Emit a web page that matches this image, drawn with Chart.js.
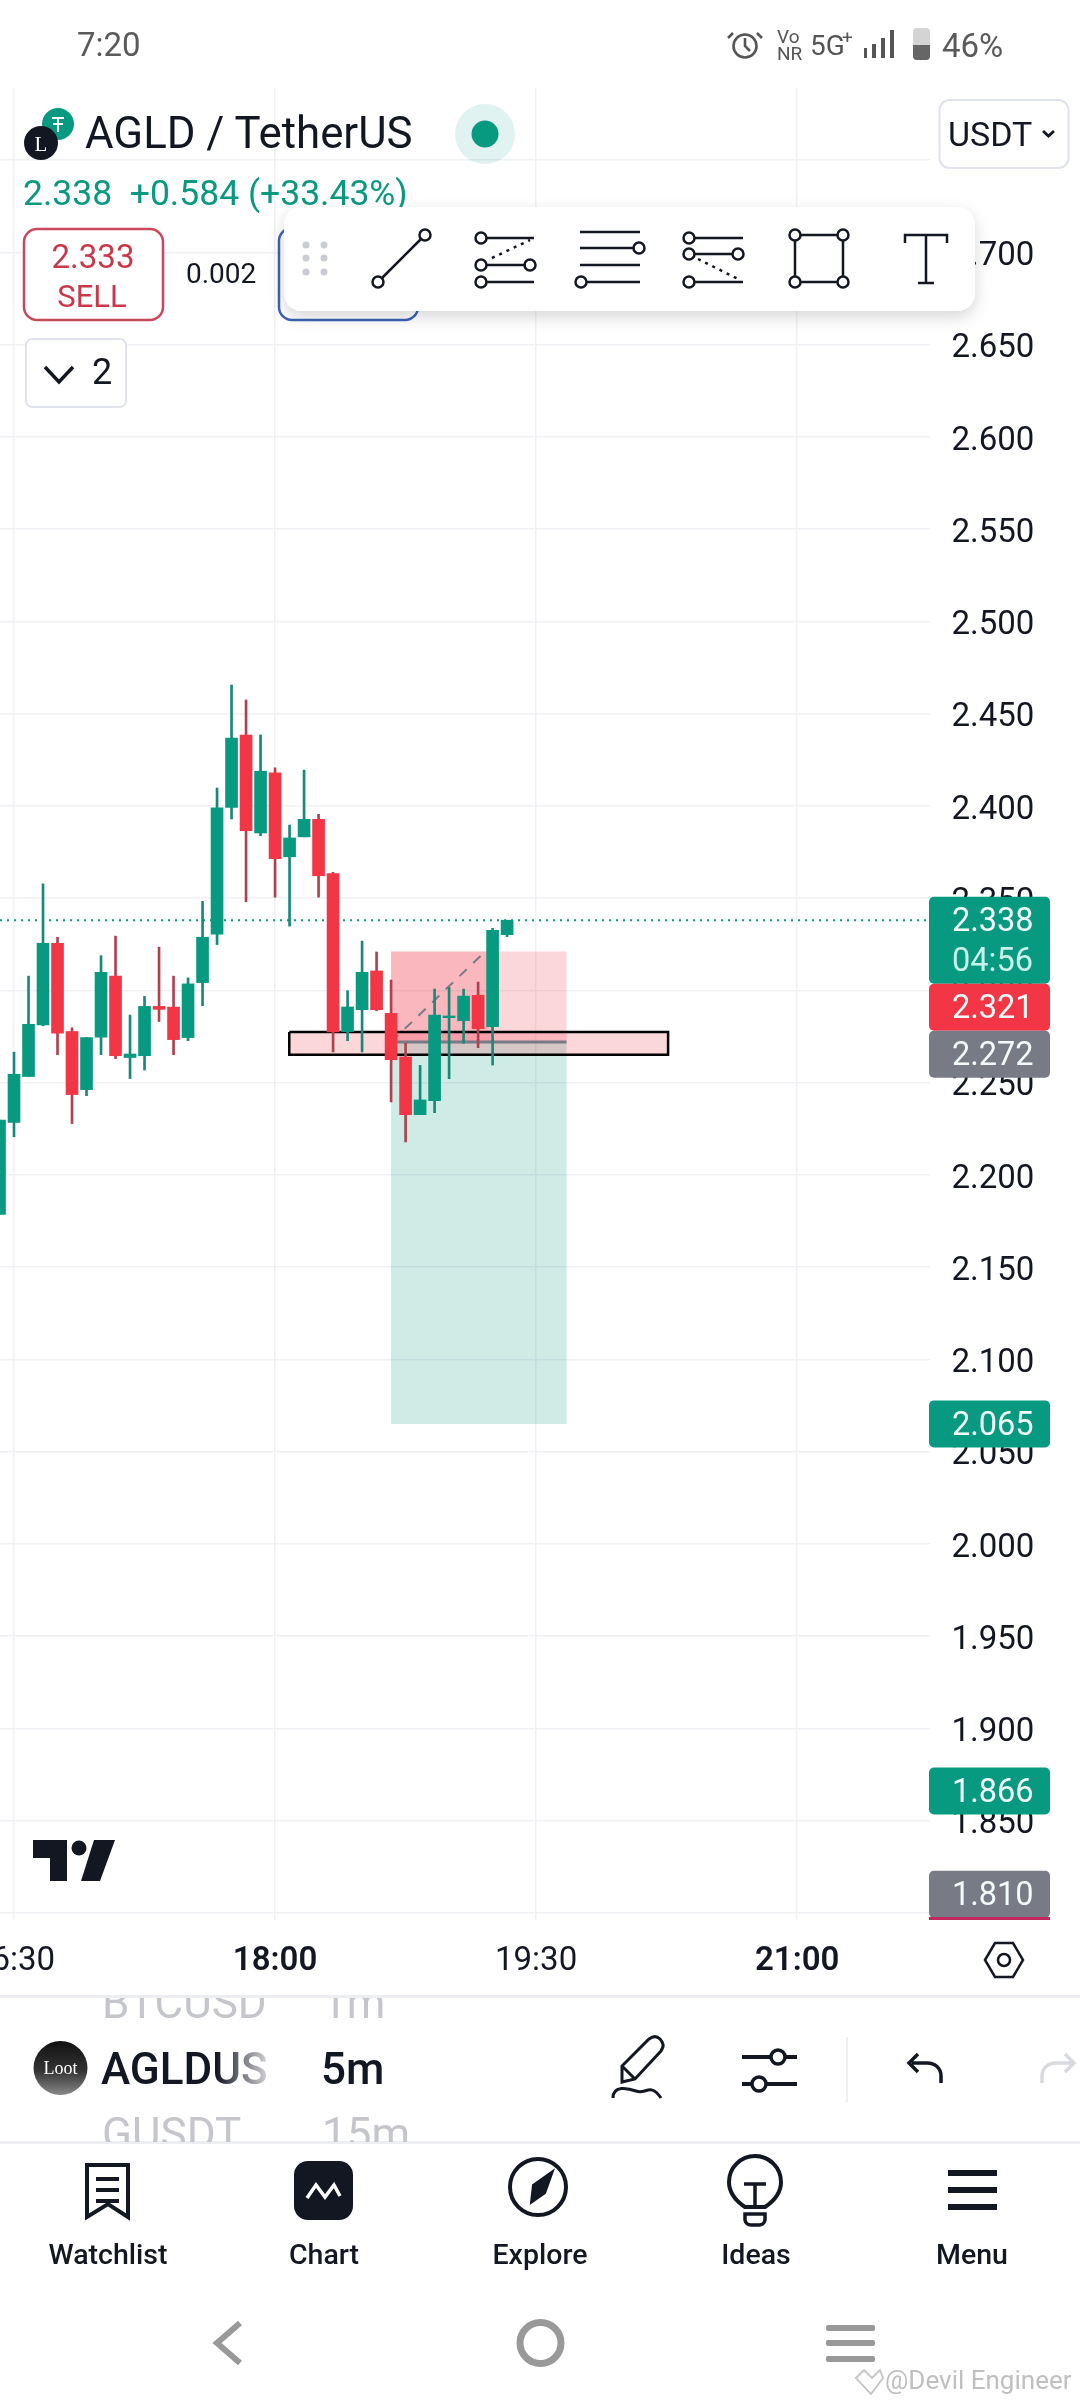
<!DOCTYPE html>
<html><head><meta charset="utf-8">
<script src="https://cdn.jsdelivr.net/npm/chart.js@4/dist/chart.umd.min.js"></script>
<style>
html,body{margin:0;padding:0;background:#fff;width:1080px;height:2400px;overflow:hidden}
#c{position:absolute;left:0;top:0}
#ui{position:absolute;left:0;top:0}
text{font-family:Roboto,sans-serif}
</style></head><body>
<canvas id="c" width="1080" height="2400"></canvas>
<svg id="ui" width="1080" height="2400" viewBox="0 0 1080 2400" fill="none">
<defs>
<filter id="sh" x="-10%" y="-30%" width="120%" height="170%"><feDropShadow dx="0" dy="6" stdDeviation="8" flood-color="#000" flood-opacity=".16"/></filter>
<clipPath id="wheel"><rect x="0" y="1998" width="600" height="144"/></clipPath>
<linearGradient id="fade" x1="102" x2="270" gradientUnits="userSpaceOnUse" y1="0" y2="0"><stop offset=".68" stop-color="#131722"/><stop offset="1" stop-color="#131722" stop-opacity=".15"/></linearGradient>
<linearGradient id="loot" x1="0" x2="0" y1="2041" y2="2095" gradientUnits="userSpaceOnUse"><stop offset="0" stop-color="#111"/><stop offset=".55" stop-color="#333"/><stop offset="1" stop-color="#888"/></linearGradient>
</defs>
<!-- status bar -->
<text x="77" y="56" font-size="33" fill="#5a5a5a">7:20</text>
<g stroke="#555" stroke-width="2.6"><circle cx="745" cy="46" r="11.5"/><path d="M745 38v8l5 5M733 33l-5 5M757 33l5 5"/></g>
<text x="777" y="43" font-size="19" fill="#555">Vo</text><text x="777" y="60" font-size="19" fill="#555">NR</text>
<text x="810" y="55" font-size="28" fill="#555">5G</text><text x="842" y="44" font-size="19" fill="#555">+</text>
<g fill="#555"><rect x="864" y="48" width="3" height="10"/><rect x="872" y="44" width="4" height="14"/><rect x="881" y="38" width="4" height="20"/><rect x="890" y="30" width="4" height="28"/></g>
<rect x="913" y="28" width="17" height="32" rx="4" fill="#d4d4d4"/><path d="M913 45h17v11a4 4 0 0 1-4 4h-9a4 4 0 0 1-4-4z" fill="#666"/>
<text x="942" y="57" font-size="33" fill="#5a5a5a">46%</text>
<!-- header -->
<circle cx="58" cy="124" r="16" fill="#089981"/><path d="M52 118h12M58 118v14M53 124h10" stroke="#fff" stroke-width="2"/>
<circle cx="41" cy="143" r="17" fill="#131722"/><text x="41" y="151" font-size="21" fill="#fff" text-anchor="middle" style="font-family:'Liberation Serif',serif">L</text>
<text x="85" y="148" font-size="43.800" fill="#131722">AGLD / TetherUS</text>
<circle cx="485" cy="134" r="30" fill="#089981" fill-opacity=".12"/><circle cx="485" cy="134" r="13.5" fill="#089981"/>
<text x="23" y="205" font-size="35.500" fill="#089981" xml:space="preserve">2.338  +0.584 (+33.43%)</text>
<rect x="939.5" y="100" width="129" height="68" rx="10" fill="#fff" stroke="#e0e3eb" stroke-width="2"/>
<text x="948" y="146" font-size="34" fill="#131722">USDT</text><path d="M1043 131l5.500 5 5.500-5" stroke="#131722" stroke-width="2.800"/>
<rect x="24" y="229" width="139" height="91" rx="13" fill="#fff" stroke="#c9485b" stroke-width="2.500"/>
<text x="93" y="268" font-size="33" fill="#c9384a" text-anchor="middle">2.333</text>
<text x="92" y="307" font-size="31" fill="#c9384a" text-anchor="middle">SELL</text>
<text x="186" y="283" font-size="28" fill="#131722">0.002</text>
<rect x="279" y="228" width="139" height="92" rx="13" fill="#fff" stroke="#3f62b5" stroke-width="2.500"/>
<!-- drawing toolbar -->
<rect x="284" y="207" width="691" height="104" rx="18" fill="#fff" filter="url(#sh)"/>
<g fill="#c9ccd3"><circle cx="306" cy="245" r="3.500"/><circle cx="324" cy="245" r="3.500"/><circle cx="306" cy="258" r="3.500"/><circle cx="324" cy="258" r="3.500"/><circle cx="306" cy="272" r="3.500"/><circle cx="324" cy="272" r="3.500"/></g>
<g stroke="#131722" stroke-width="2.500">
 <circle cx="378" cy="282" r="5.500"/><circle cx="425" cy="235" r="5.500"/><path d="M382 278l39-39"/>
 <path d="M486 238h48M486 265h40M486 282h48"/><circle cx="481" cy="238" r="5.500"/><circle cx="481" cy="265" r="5.500"/><circle cx="481" cy="282" r="5.500"/><circle cx="530" cy="265" r="5.500"/><path d="M492 258l38-18" stroke-dasharray="3 5"/>
 <path d="M580 232h60M580 248h54M580 265h60M586 282h54"/><circle cx="639" cy="248" r="5.500"/><circle cx="581" cy="282" r="5.500"/>
 <path d="M694 238h49M694 254h39M694 282h49"/><circle cx="689" cy="238" r="5.500"/><circle cx="689" cy="254" r="5.500"/><circle cx="738" cy="254" r="5.500"/><circle cx="689" cy="282" r="5.500"/><path d="M698 259l40 20" stroke-dasharray="3 5"/>
 <path d="M801 235h37M801 282h37M795 240v37M843 240v37"/><circle cx="795" cy="235" r="5.500"/><circle cx="843" cy="235" r="5.500"/><circle cx="795" cy="282" r="5.500"/><circle cx="843" cy="282" r="5.500"/>
 <path d="M905 243v-8h42v8M926 235v48M918 283h16"/>
</g>
<rect x="26" y="339" width="100" height="68" rx="6" fill="#fff" stroke="#e0e3eb" stroke-width="2"/>
<path d="M45 367l14 15 14-15" stroke="#131722" stroke-width="3.500"/>
<text x="92" y="384" font-size="36" fill="#131722">2</text>
<!-- TV logo -->
<g fill="#131722"><path d="M33 1840h34v41H50v-23H33z"/><circle cx="79" cy="1848" r="7.500"/><path d="M115 1840h-21l-13 41h19z" /></g>
<!-- settings hex -->
<path d="M985 1960l10-17h18l10 17-10 17h-18z" stroke="#131722" stroke-width="2.500"/><circle cx="1004" cy="1960" r="6" stroke="#131722" stroke-width="2.500"/>
<!-- toolbar row -->
<rect x="0" y="1995" width="1080" height="3" fill="#eceef2"/><rect x="0" y="2141" width="1080" height="3" fill="#eceef2"/>
<g clip-path="url(#wheel)">
<text x="102" y="2018" font-size="44" fill="#c4c6cb">BTCUSD</text><text x="322" y="2018" font-size="44" fill="#c4c6cb">1m</text>
<text x="102" y="2149" font-size="44" fill="#c4c6cb">GUSDT</text><text x="322" y="2149" font-size="44" fill="#c4c6cb">15m</text>
</g>
<circle cx="60.500" cy="2068" r="27" fill="url(#loot)"/><text x="60.500" y="2074" font-size="18" fill="#fff" text-anchor="middle" style="font-family:'Liberation Serif',serif">Loot</text>
<text x="101" y="2084" font-size="44" font-weight="500" fill="url(#fade)">AGLDUS</text>
<text x="321" y="2084" font-size="44" font-weight="500" fill="#131722">5m</text>
<g stroke="#131722" stroke-width="3.500">
 <path d="M622 2082v-16l27-27c4-3 8-3 11 0 4 4 4 8 1 12l-26 28zM622 2066l13 13" stroke-width="3"/><path d="M613 2098c0-13 15-10 23-7 10 4 14-9 25 7" stroke-width="3"/>
 <path d="M742 2057h55M742 2084h55" stroke-width="4"/><circle cx="778" cy="2057" r="7" fill="#fff"/><circle cx="759" cy="2084" r="7" fill="#fff"/>
 <path d="M941 2083v-7c0-8-6-13-14-13h-15M918 2054l-9 9 9 9" />
 <path d="M1042 2083v-7c0-8 6-13 14-13h15M1065 2054l9 9-9 9" stroke="#d8dae0"/>
</g>
<rect x="846" y="2037" width="2" height="65" fill="#eef0f3"/>
<!-- nav -->
<g stroke="#131722" stroke-width="4">
 <path d="M87 2165h41v52l-20-13-21 13z"/><path d="M96 2179h23M96 2190h23M96 2201h23"/>
 <circle cx="538" cy="2187" r="28"/><path d="M553 2171l-8 22-14 10 2-18z" fill="#131722" stroke-width="2"/>
 <path d="M745 2207c-9-6-16-14-16-25a26 26 0 0 1 52 0c0 11-7 19-16 25z"/><path d="M744 2184h22M755 2184v22M745 2214h20v6a6 6 0 0 1-6 5h-8a6 6 0 0 1-6-5z" stroke-width="3.500"/>
</g>
<rect x="294" y="2161" width="59" height="59" rx="14" fill="#131722"/><path d="M307 2198l9-13 9 12 9-12 6 11" stroke="#fff" stroke-width="3.500"/>
<g fill="#131722"><rect x="948" y="2170" width="49" height="6"/><rect x="948" y="2187" width="49" height="6"/><rect x="948" y="2204" width="49" height="6"/></g>
<g font-size="28.500" font-weight="500" fill="#131722" text-anchor="middle">
<text x="108" y="2264">Watchlist</text><text x="324" y="2264">Chart</text><text x="540" y="2264">Explore</text><text x="756" y="2264">Ideas</text><text x="972" y="2264">Menu</text></g>
<!-- system nav -->
<path d="M240 2323l-23 20 23 20" stroke="#999" stroke-width="6"/>
<circle cx="540.500" cy="2343" r="20.500" stroke="#999" stroke-width="7"/>
<g fill="#999"><rect x="826" y="2325" width="49" height="6" rx="2"/><rect x="826" y="2340" width="49" height="6" rx="2"/><rect x="826" y="2356" width="49" height="6" rx="2"/></g>
<path d="M856 2378l8-8 8 8 8-8 3 8-12 16z" stroke="#c4c4c4" stroke-width="1.800"/>
<text x="885" y="2389" font-size="26" fill="#c0c0c0">@Devil Engineer</text>
</svg>
<script>
// --- chart data (5 minute candles, minutes since midnight) ---
const candleTimes = [985,990,995,1000,1005,1010,1015,1020,1025,1030,1035,1040,1045,1050,1055,1060,1065,1070,1075,1080,1085,1090,1095,1100,1105,1110,1115,1120,1125,1130,1135,1140,1145,1150,1155,1160];
const opens  = [2.1786,2.2284,2.2533,2.2812,2.3255,2.2777,2.2462,2.2746,2.3077,2.2636,2.2646,2.2913,2.2909,2.2744,2.3042,2.3304,2.3991,2.4384,2.3853,2.4179,2.3724,2.3832,2.3927,2.3633,2.2776,2.2895,2.3105,2.2875,2.2639,2.2326,2.2402,2.2852,2.2836,2.2973,2.2803,2.3302];
const highs  = [2.2297,2.2665,2.3077,2.3577,2.3288,2.2797,2.2744,2.3188,2.3294,2.2866,2.2967,2.3234,2.3077,2.3068,2.3482,2.4097,2.4655,2.4574,2.4384,2.4206,2.3896,2.4194,2.3954,2.3640,2.2998,2.3267,2.3208,2.3056,2.2713,2.2593,2.3007,2.3016,2.3007,2.3045,2.3336,2.3380];
const lows   = [2.1786,2.2206,2.2533,2.2808,2.2651,2.2278,2.2429,2.2651,2.2630,2.2522,2.2568,2.2831,2.2651,2.2727,2.2917,2.3248,2.3929,2.3480,2.3838,2.3505,2.3348,2.3832,2.3505,2.2666,2.2727,2.2666,2.2890,2.2395,2.2178,2.2326,2.2337,2.2521,2.2713,2.2689,2.2595,2.3291];
const closes = [2.2297,2.2545,2.2816,2.3255,2.2768,2.2435,2.2744,2.3097,2.2646,2.2655,2.2913,2.2897,2.2733,2.3035,2.3288,2.3989,2.4368,2.3865,2.4188,2.3714,2.3826,2.3927,2.3621,2.2774,2.2910,2.3098,2.2895,2.2624,2.2326,2.2406,2.2866,2.2861,2.2969,2.2792,2.3325,2.3380];

const timeTicks = [990,1080,1170,1260];
const boldTimes = [1080,1260];
const priceTicks = [1.80,1.85,1.90,1.95,2.00,2.05,2.10,2.15,2.20,2.25,2.30,2.35,2.40,2.45,2.50,2.55,2.60,2.65,2.70,2.75];
const hiddenPriceLabels = [1.80,2.75];
const visibleTimeRange = [985.17,1305.8];
const visiblePriceRange = [1.7961,2.7891];
const labelDrop = 0.00244;

const lastPrice = 2.338;
const entryLevel = 2.272, stopLevel = 2.321, targetLevel = 2.065;
const positionSpan = [1120,1180.5];
const tracedEnd = 1155;
const tracePath = [[1120,2.272],[1152.4,2.321],[1155,2.321]];
const zoneSpan = [1084.9,1215.5];
const zonePrices = [2.2651,2.2774];

const stackedTags = [
  {rows:['2.338','04:56'], anchor:2.338, color:'#089981'},
  {rows:['2.321'], color:'#f23645'},
  {rows:['2.272'], color:'#787b86'}
];
const freeTags = [
  {rows:['2.065'], anchor:2.065, color:'#089981'},
  {rows:['1.866'], anchor:1.866, color:'#089981'},
  {rows:['1.810'], anchor:1.810, color:'#787b86'}
];

const UP='#089981', DOWN='#f23645', UPW='#17897a', DOWNW='#b2404f';
const pick = (up, build) => candleTimes.map((t,i)=>((closes[i]>=opens[i])===up)?build(t,i):null).filter(Boolean);
const body = (t,i)=>({x:t,y:[opens[i],closes[i]]});
const wick = (t,i)=>({x:t,y:[lows[i],highs[i]]});
const rect = (xs,lo,hi)=>[{x:xs[0],y:hi},{x:xs[1],y:hi},{x:xs[1],y:lo},{x:xs[0],y:lo},{x:xs[0],y:hi}];
const shape = (data,fillCol,order,extra={})=>Object.assign({type:'line',data,fill:'shape',backgroundColor:fillCol,borderWidth:0,pointRadius:0,tension:0,order},extra);
const bar = (data,color,thick,order)=>({type:'bar',data,backgroundColor:color,borderWidth:0,barThickness:thick,grouped:false,order});

const tagPlugin = {
  id:'tags',
  afterDraw(chart){
    const {ctx,scales:{y}} = chart;
    const left=929,right=1050,rowH=40,pad=3.500;
    const paint=(tag,top)=>{
      const h=tag.rows.length*rowH+2*pad;
      ctx.fillStyle=tag.color;
      ctx.beginPath();ctx.roundRect(left,top,right-left,h,5);ctx.fill();
      ctx.font='32.500px Roboto';ctx.textAlign='left';ctx.textBaseline='middle';
      tag.rows.forEach((r,i)=>{ctx.fillStyle=i?'#c9f2ea':'#f2fbf9';ctx.fillText(r,952,top+pad+rowH*i+rowH/2+2.500);});
      return top+h;
    };
    ctx.save();
    let top=y.getPixelForValue(stackedTags[0].anchor)-rowH/2-pad;
    stackedTags.forEach(t=>{top=paint(t,top);});
    freeTags.forEach(t=>paint(t,y.getPixelForValue(t.anchor)-rowH/2-pad));
    ctx.fillStyle='#c3285f';
    ctx.fillRect(left,y.getPixelForValue(y.min)-3,right-left,3);
    ctx.restore();
  }
};

new Chart(document.getElementById('c'),{
  type:'bar',
  data:{datasets:[
    bar(pick(true,body),UP,12,1),
    bar(pick(false,body),DOWN,12,1),
    bar(pick(true,wick),UPW,2,2),
    bar(pick(false,wick),DOWNW,2,2),
    {type:'line',data:visibleTimeRange.map(x=>({x,y:lastPrice})),borderColor:UP,borderWidth:2,borderDash:[2,5],pointRadius:0,fill:false,order:3},
    {type:'line',data:tracePath.map(p=>({x:p[0],y:p[1]})),borderColor:'#787b86',borderWidth:2,borderDash:[10,9],pointRadius:0,fill:false,tension:0,order:4},
    {type:'line',data:positionSpan.map(x=>({x,y:entryLevel})),borderColor:'#787b86',borderWidth:3,pointRadius:0,fill:false,order:5},
    shape(rect(zoneSpan,zonePrices[0],zonePrices[1]),'rgba(242,54,69,.2)',6,{borderColor:'#000',borderWidth:2.500}),
    shape(rect([positionSpan[0],tracedEnd],entryLevel,stopLevel),'rgba(242,54,69,.2)',7),
    shape(rect(positionSpan,entryLevel,stopLevel),'rgba(242,54,69,.2)',8),
    shape(rect(positionSpan,targetLevel,entryLevel),'rgba(8,153,129,.2)',9)
  ]},
  options:{
    responsive:false,animation:false,devicePixelRatio:1,
    layout:{padding:{top:88,left:0,right:0,bottom:410}},
    plugins:{legend:{display:false},tooltip:{enabled:false}},
    scales:{
      x:{type:'linear',position:'bottom',min:visibleTimeRange[0],max:visibleTimeRange[1],offset:false,
        afterBuildTicks:s=>{s.ticks=timeTicks.map(value=>({value}));},
        afterFit:s=>{s.height=70;s.paddingLeft=0;s.paddingRight=0;},
        grid:{color:'#eff1f5',lineWidth:1.500,drawTicks:false,offset:false},border:{display:false},
        ticks:{autoSkip:false,maxRotation:0,padding:21.500,color:'#131722',
          font:c=>({family:'Roboto',size:33,weight:boldTimes.includes(c.tick&&c.tick.value)?'600':'400'}),
          callback:v=>{const h=Math.floor(v/60),m=v%60;return h+':'+String(m).padStart(2,'0');}}},
      // price gridlines
      y:{type:'linear',position:'right',min:visiblePriceRange[0],max:visiblePriceRange[1],
        afterBuildTicks:s=>{s.ticks=priceTicks.map(value=>({value}));},
        afterFit:s=>{s.width=0;s.paddingTop=0;s.paddingBottom=0;},
        grid:{color:'#eff1f5',lineWidth:1.500,drawTicks:false},border:{display:false},
        ticks:{display:false}},
      // price labels: same range nudged so text sits just below each gridline, as in the app
      yLabels:{type:'linear',position:'right',min:visiblePriceRange[0]+labelDrop,max:visiblePriceRange[1]+labelDrop,
        afterBuildTicks:s=>{s.ticks=priceTicks.map(value=>({value}));},
        afterFit:s=>{s.width=150;s.paddingTop=0;s.paddingBottom=0;},
        grid:{display:false,drawTicks:false},border:{display:false},
        ticks:{autoSkip:false,padding:21.500,color:'#131722',font:{family:'Roboto',size:33},
          callback:v=>hiddenPriceLabels.includes(+v.toFixed(2))?'':v.toFixed(3)}}
    }
  },
  plugins:[tagPlugin]
});
</script>
</body></html>
